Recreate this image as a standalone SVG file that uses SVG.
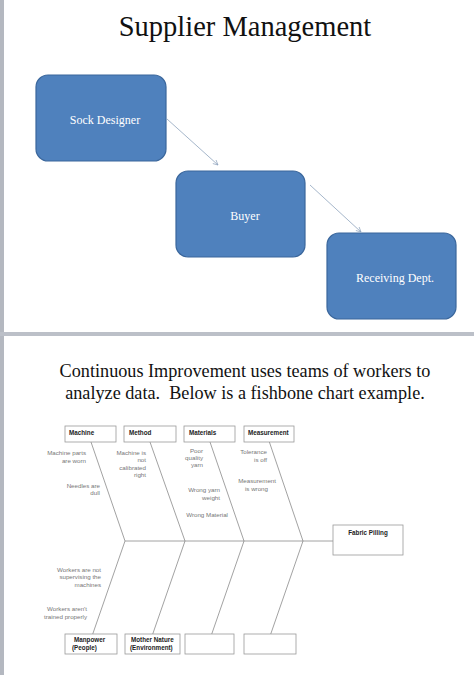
<svg xmlns="http://www.w3.org/2000/svg" width="474" height="675" viewBox="0 0 474 675">
<style>
.title{font-family:"Liberation Serif",serif;fill:#111;text-anchor:middle}
.node rect{fill:#4f81bd;stroke:#3b679c;stroke-width:1.2}
.node text{font-family:"Liberation Serif",serif;font-size:12px;fill:#fff;text-anchor:middle}
.fb rect{fill:#fff;stroke:#999;stroke-width:0.8}
.lbl{font-family:"Liberation Sans",Arial,sans-serif;font-size:6.3px;font-weight:bold;fill:#222}
.cause{font-family:"Liberation Sans",Arial,sans-serif;font-size:6.2px;fill:#777;text-anchor:end}
.bone{stroke:#8a8a8a;stroke-width:0.8;fill:none}
.arr{stroke:#8ea3bd;stroke-width:0.8;fill:none}
</style>
<defs>
<marker id="ah" viewBox="0 0 10 10" refX="9" refY="5" markerWidth="6" markerHeight="6" orient="auto" markerUnits="userSpaceOnUse">
<path d="M1,1 L9,5 L1,9" fill="none" stroke="#8ea3bd" stroke-width="1.2"/>
</marker>
</defs>
<rect width="474" height="675" fill="#fff"/>
<rect x="0" y="0" width="4" height="675" fill="#b4b8c0"/>
<rect x="0" y="332" width="474" height="4" fill="#bcc0c8"/>
<text class="title" x="245" y="36" font-size="28.5">Supplier Management</text>
<g id="sock-designer" class="node"><rect x="36" y="75" width="130" height="86" rx="12"/><text x="105" y="124">Sock Designer</text></g>
<g id="buyer" class="node"><rect x="176" y="171" width="129" height="86" rx="12"/><text x="245" y="220">Buyer</text></g>
<g id="receiving" class="node"><rect x="327" y="233" width="129" height="86" rx="12"/><text x="395" y="282">Receiving Dept.</text></g>
<g id="connectors">
<line class="arr" x1="167" y1="119" x2="218" y2="165" marker-end="url(#ah)"/>
<line class="arr" x1="310" y1="185" x2="361" y2="232" marker-end="url(#ah)"/>
</g>
<text class="title" x="245" y="377" font-size="18.2">Continuous Improvement uses teams of workers to</text>
<text class="title" x="245" y="399" font-size="18.2" xml:space="preserve">analyze data.  Below is a fishbone chart example.</text>
<g id="fishbone-lines">
<line class="bone" x1="125" y1="541" x2="333" y2="541"/>
<line class="bone" x1="91" y1="442" x2="125" y2="541"/>
<line class="bone" x1="150" y1="442" x2="185" y2="541"/>
<line class="bone" x1="210" y1="442" x2="244" y2="541"/>
<line class="bone" x1="268" y1="438" x2="303" y2="541"/>
<line class="bone" x1="125" y1="541" x2="91" y2="639"/>
<line class="bone" x1="185" y1="541" x2="151" y2="639"/>
<line class="bone" x1="244" y1="541" x2="210" y2="639"/>
<line class="bone" x1="303" y1="541" x2="269" y2="639"/>
</g>
<g id="machine" class="fb"><rect x="65" y="426" width="51" height="16"/><text class="lbl" x="69" y="435">Machine</text></g>
<g id="method" class="fb"><rect x="124" y="426" width="52" height="16"/><text class="lbl" x="129" y="435">Method</text></g>
<g id="materials" class="fb"><rect x="184" y="426" width="51" height="16"/><text class="lbl" x="189" y="435">Materials</text></g>
<g id="measurement" class="fb"><rect x="244" y="426" width="50" height="16"/><text class="lbl" x="248" y="435">Measurement</text></g>
<g id="fabric-pilling" class="fb"><rect x="333" y="525" width="70" height="30"/><text class="lbl" x="368" y="535" text-anchor="middle" font-size="7.6">Fabric Pilling</text></g>
<g id="manpower" class="fb"><rect x="65" y="634" width="52" height="20"/><text class="lbl" x="74" y="642">Manpower</text><text class="lbl" x="72" y="650">(People)</text></g>
<g id="mother-nature" class="fb"><rect x="125" y="634" width="55" height="20"/><text class="lbl" x="131" y="642">Mother Nature</text><text class="lbl" x="130" y="650">(Environment)</text></g>
<g id="blank-1" class="fb"><rect x="185" y="634" width="49" height="20"/></g>
<g id="blank-2" class="fb"><rect x="244" y="634" width="52" height="20"/></g>
<g id="causes">
<text class="cause" x="86" y="455">Machine parts</text>
<text class="cause" x="86" y="463">are worn</text>
<text class="cause" x="100" y="488">Needles are</text>
<text class="cause" x="100" y="495">dull</text>
<text class="cause" x="146" y="455">Machine is</text>
<text class="cause" x="146" y="462">not</text>
<text class="cause" x="146" y="470">calibrated</text>
<text class="cause" x="146" y="477">right</text>
<text class="cause" x="203" y="453">Poor</text>
<text class="cause" x="203" y="460">quality</text>
<text class="cause" x="203" y="467">yarn</text>
<text class="cause" x="220" y="492">Wrong yarn</text>
<text class="cause" x="220" y="500">weight</text>
<text class="cause" x="228" y="517">Wrong Material</text>
<text class="cause" x="267" y="454">Tolerance</text>
<text class="cause" x="267" y="462">is off</text>
<text class="cause" x="276" y="483">Measurement</text>
<text class="cause" x="268" y="491">is wrong</text>
<text class="cause" x="101" y="572">Workers are not</text>
<text class="cause" x="101" y="579">supervising the</text>
<text class="cause" x="101" y="587">machines</text>
<text class="cause" x="87" y="611">Workers aren't</text>
<text class="cause" x="87" y="619">trained properly</text>
</g>
</svg>
